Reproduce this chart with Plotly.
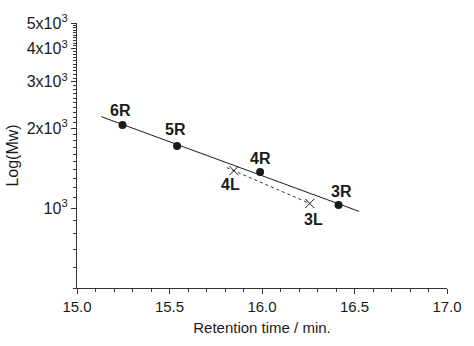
import plotly.graph_objects as go
import numpy as np

# Data
r_time = [15.246, 15.541, 15.990, 16.414]
r_mw = [2062, 1717, 1371, 1028]
r_labels = ["6R", "5R", "4R", "3R"]

l_time = [15.848, 16.258]
l_mw = [1386, 1042]
l_labels = ["4L", "3L"]

fit_time = [15.132, 16.525]
fit_mw = [2215, 973]

lfit_time = [15.81, 16.258]
lfit_mw = [1423, 1042]

y_tickvals = [1000, 2000, 3000, 4000, 5000]
y_ticktext = ["10<sup>3</sup>", "2x10<sup>3</sup>", "3x10<sup>3</sup>", "4x10<sup>3</sup>", "5x10<sup>3</sup>"]
x_tickvals = [15.0, 15.5, 16.0, 16.5, 17.0]
x_ticktext = ["15.0", "15.5", "16.0", "16.5", "17.0"]

# label offsets (pixels): (xshift, yshift)
r_offsets = [(-2, 14), (-2, 17), (0, 13), (3, 14)]
l_offsets = [(-3, -14), (4, -16)]

FONT = "Arial, Liberation Sans, sans-serif"
INK = "#1a1a1a"

fig = go.Figure()
fig.add_trace(go.Scatter(x=fit_time, y=fit_mw, mode="lines",
                         line=dict(color=INK, width=1), showlegend=False))
fig.add_trace(go.Scatter(x=lfit_time, y=lfit_mw, mode="lines",
                         line=dict(color="#333", width=1, dash="3px,3px"), showlegend=False))
fig.add_trace(go.Scatter(x=r_time, y=r_mw, mode="markers",
                         marker=dict(symbol="circle", size=8, color=INK), showlegend=False))
fig.add_trace(go.Scatter(x=l_time, y=l_mw, mode="markers",
                         marker=dict(symbol="x-thin", size=9, line=dict(color=INK, width=1)),
                         showlegend=False))

for t, m, lab, (dx, dy) in zip(r_time + l_time, r_mw + l_mw, r_labels + l_labels, r_offsets + l_offsets):
    fig.add_annotation(x=t, y=np.log10(m), text="<b>%s</b>" % lab, showarrow=False,
                       xshift=dx, yshift=dy, font=dict(family=FONT, size=16, color=INK))

minor_y = [v for v in range(500, 5001, 100) if v not in y_tickvals]

fig.update_layout(
    width=474, height=346,
    margin=dict(l=77, r=18, t=13, b=53),
    paper_bgcolor="white", plot_bgcolor="white",
    font=dict(family=FONT, color=INK, size=15),
    xaxis=dict(range=[15.0, 17.0], tickvals=x_tickvals, ticktext=x_ticktext,
               showgrid=False, zeroline=False, showline=True, linecolor="#333", linewidth=1.3,
               ticks="outside", ticklen=5, tickwidth=1.2, tickcolor="#333",
               minor=dict(dtick=0.1, ticks="outside", ticklen=3, tickcolor="#333", showgrid=False),
               title=dict(text="Retention time / min.", font=dict(size=15), standoff=8),
               tickfont=dict(size=15)),
    yaxis=dict(type="log", range=[np.log10(500), np.log10(5000)],
               tickvals=y_tickvals, ticktext=y_ticktext,
               showgrid=False, zeroline=False, showline=True, linecolor="#333", linewidth=1.3,
               ticks="outside", ticklen=5, tickwidth=1.2, tickcolor="#333",
               minor=dict(tickmode="array", tickvals=minor_y, ticks="outside", ticklen=3,
                          tickcolor="#333", showgrid=False),
               title=dict(text="Log(Mw)", font=dict(size=16), standoff=4),
               tickfont=dict(size=16)),
)

fig.write_html("out.html")
